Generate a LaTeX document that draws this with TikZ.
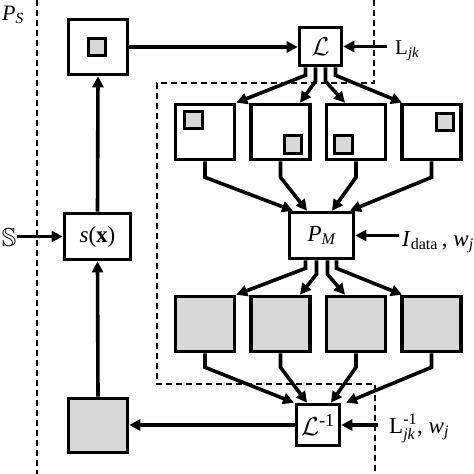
\RequirePackage{fix-cm}
\documentclass[tikz,border=0pt]{standalone}
\usepackage{amsmath,amssymb}
\usepackage{fontspec}
\setmainfont{Liberation Serif}
\usetikzlibrary{arrows.meta,calc}
\definecolor{boxgray}{RGB}{216,216,216}
\begin{document}
\begin{tikzpicture}[x=1pt,y=-1pt,
  box/.style={draw, line width=3.6pt, inner sep=0pt, minimum width=59pt, minimum height=55pt},
  gbox/.style={box, fill=boxgray},
  sq/.style={draw, line width=3.4pt, fill=boxgray, minimum size=17.5pt, inner sep=0pt},
  arr/.style={line width=3.6pt, -{Triangle[length=11pt,width=11pt]}},
  dsh/.style={line width=1.6pt, dash pattern=on 6pt off 4pt},
  lab/.style={inner sep=0pt, font=\fontsize{23}{27}\selectfont},
]
\useasboundingbox (0,0) rectangle (474,474);

% dashed region boundaries
\draw[dsh] (37,0) -- (37,474);
\draw[dsh] (374,0) -- (374,83) -- (157,83) -- (157,384) -- (375,384) -- (375,474);

% left column
\node[box] (tl) at (98,47) {};
\node[sq] (tls) at (97,47) {};
\node[box, lab, minimum width=66pt, minimum height=46pt] (sx) at (97.5,236.5) {\textit{s}(\textbf{x})};
\node[gbox, minimum height=54pt] (gb) at (98,425.5) {};

% central column
\node[box, minimum width=42pt, minimum height=38pt, font=\fontsize{26}{30}\selectfont] (L) at (320.5,46.5) {$\mathcal{L}$};
\node[box, lab, minimum width=64pt, minimum height=46pt] (PM) at (321.5,235.5) {\textit{P}\textsubscript{\itshape M}};
\node[box, minimum width=43pt, minimum height=41pt, font=\fontsize{26}{30}\selectfont] (Li) at (318,425) {$\mathcal{L}^{\text{-1}}$};

% row 1 (white boxes with small squares)
\node[box] (a1) at (205,132) {};
\node[box] (a2) at (280.5,132) {};
\node[box] (a3) at (356,132) {};
\node[box] (a4) at (431.5,132) {};
\node[sq] (s1) at (193.5,120) {};
\node[sq] (s2) at (293,144.5) {};
\node[sq] (s3) at (343.5,144.5) {};
\node[sq] (s4) at (445,122) {};

% row 2 (gray boxes)
\node[gbox] (g1) at (205,324) {};
\node[gbox] (g2) at (280.5,324) {};
\node[gbox] (g3) at (356,324) {};
\node[gbox] (g4) at (431.5,324) {};

% labels
\node[lab, anchor=base west, font=\fontsize{22}{26}\selectfont] (ps) at (2,20) {\textit{P}\textsubscript{\itshape S}};
\node[lab, anchor=east, font=\fontsize{26}{30}\selectfont] (S) at (16.5,238) {$\mathbb{S}$};
\node[lab, anchor=base west, inner xsep=8pt, font=\fontsize{21}{25}\selectfont] (ljk) at (387,54) {L\textsubscript{\itshape jk}};
\node[lab, anchor=base west, inner xsep=3pt, font=\fontsize{23}{27}\selectfont] (idw) at (399,246) {\textit{I}\textsubscript{data}\,, \textit{w}\textsubscript{\itshape j}};
\node[lab, anchor=base west, inner xsep=11pt] (lij) at (378,433) {$\text{L}^{\text{-1}}_{\textit{jk}}$, \textit{w}\textsubscript{\itshape j}};

% left column arrows
\draw[arr] (S.east |- sx.west) -- (sx.west);
\draw[arr] (gb.north) -- (sx.south);
\draw[arr] (sx.north) -- (tl.south);
\draw[arr] (tl.east) -- (tl.east -| L.west);
\draw[arr] (Li.west) -- (Li.west -| gb.east);

% side inputs
\draw[arr] (ljk.west |- L.east) -- (L.east);
\draw[arr] (idw.west |- PM.east) -- (PM.east);
\draw[arr] (lij.west |- Li.east) -- (Li.east);

% L -> row 1
\draw[arr] ([xshift=-15pt]L.south) -- ++(0,8) -- (a1.north east);
\draw[arr] ([xshift=-5pt]L.south) -- ++(0,14) -- ([xshift=19.5pt]a2.north);
\draw[arr] ([xshift=5pt]L.south) -- ++(0,14) -- ([xshift=-11pt]a3.north);
\draw[arr] ([xshift=15pt]L.south) -- ++(0,8) -- ([xshift=-29.5pt]a4.north);

% row 1 -> PM
\draw[arr] (a1.south) -- ++(0,16) -- ([xshift=-28.5pt]PM.north);
\draw[arr] (a2.south) -- ++(0,16) -- ([xshift=-14.5pt]PM.north);
\draw[arr] (a3.south) -- ++(0,16) -- ([xshift=10.5pt]PM.north);
\draw[arr] (a4.south) -- ++(0,16) -- ([xshift=28.5pt]PM.north);

% PM -> row 2
\draw[arr] ([xshift=-16pt]PM.south) -- ++(0,8) -- (g1.north east);
\draw[arr] ([xshift=-5pt]PM.south) -- ++(0,14) -- ([xshift=19.5pt]g2.north);
\draw[arr] ([xshift=6pt]PM.south) -- ++(0,14) -- ([xshift=-11pt]g3.north);
\draw[arr] ([xshift=15pt]PM.south) -- ++(0,8) -- ([xshift=-29.5pt]g4.north);

% row 2 -> L^-1
\draw[arr] (g1.south) -- ++(0,14) -- ([xshift=-24pt]Li.north);
\draw[arr] (g2.south) -- ++(0,14) -- ([xshift=-11pt]Li.north);
\draw[arr] (g3.south) -- ++(0,14) -- ([xshift=13pt]Li.north);
\draw[arr] (g4.south) -- ++(0,14) -- ([xshift=28pt]Li.north);
\end{tikzpicture}
\end{document}
